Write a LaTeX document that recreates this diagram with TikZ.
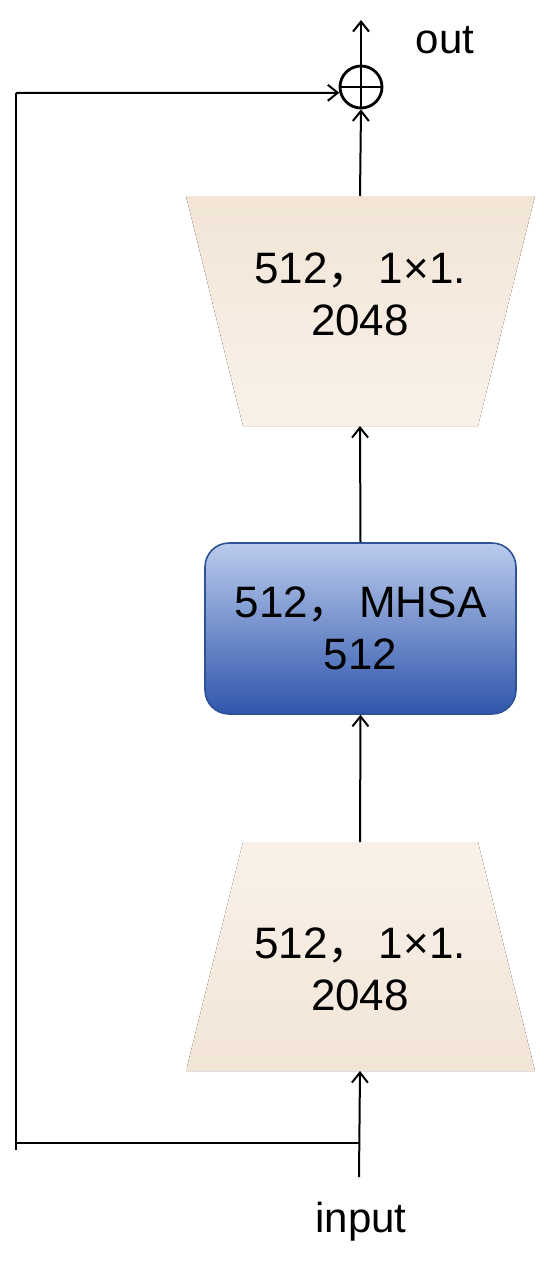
\documentclass[tikz,border=0pt]{standalone}
\usepackage{fontspec}
\setmainfont{Liberation Sans}
\newfontfamily\cjk{Noto Sans CJK SC}
\usetikzlibrary{arrows.meta,shapes.geometric}
\definecolor{trapdark}{RGB}{242,229,214}
\definecolor{traplight}{RGB}{249,241,233}
\definecolor{bluetop}{RGB}{186,203,236}
\definecolor{bluemid}{RGB}{66,112,200}
\definecolor{bluebot}{RGB}{47,86,172}
\definecolor{blueedge}{RGB}{47,82,150}
\begin{document}
\begin{tikzpicture}[x=0.5pt,y=-0.5pt,
  conn/.style={line width=1pt,-{Straight Barb[length=5pt,width=8pt,line width=1pt]}},
  wire/.style={line width=1pt},
  lbl/.style={font=\fontsize{22}{26}\selectfont,align=center,inner sep=0pt},
]
\useasboundingbox (0,0) rectangle (550,1269);
% top trapezoid (wide top)
\fill[top color=trapdark,bottom color=traplight] (186,196) -- (535,196) -- (478,426) -- (243,426) -- cycle;
\coordinate (t2top) at (360,196);
\coordinate (t2bot) at (360,426);
\node[lbl] (t2) at (360,294) {512{\cjk ，}\,1×1.\\2048};
% bottom trapezoid (wide bottom)
\fill[top color=traplight,bottom color=trapdark] (243,842) -- (478,842) -- (535,1071) -- (186,1071) -- cycle;
\coordinate (t1top) at (360,842);
\coordinate (t1bot) at (360,1071);
\node[lbl] (t1) at (360,969) {512{\cjk ，}\,1×1.\\2048};
% MHSA box
\node[draw=blueedge,line width=0.8pt,rounded corners=12pt,minimum width=155.5pt,minimum height=85.5pt,
  top color=bluetop,middle color=bluemid,bottom color=bluebot,inner sep=0pt] (m) at (360.5,628.5) {};
\node[lbl] (mt) at (360.5,628) {512{\cjk ，}\,MHSA\\512};
% sum
\node[draw,circle,line width=1.4pt,minimum size=21pt,inner sep=0pt] (sum) at (361,87) {};
\draw[line width=1.4pt] (sum.north) -- (sum.south);
\draw[line width=1.4pt] (sum.west) -- (sum.east);
\coordinate (outend) at (361,20);
\node[font=\fontsize{21}{25}\selectfont,inner sep=0pt] (out) at (445,40) {out};
\node[font=\fontsize{21}{25}\selectfont,inner sep=0pt] (input) at (361,1222) {input};
\coordinate (inend) at (359,1177);
\coordinate (j) at (359,1143);
\coordinate (lb) at (16,1143);
\coordinate (lbt) at (16,1150);
\coordinate (lt) at (16,93);
% connectors
\draw[conn] (sum.north) -- (outend);
\draw[conn] (t2top) -- (sum.south);
\draw[conn] (m.north) -- (t2bot);
\draw[conn] (t1top) -- (m.south);
\draw[conn] (inend) -- (t1bot);
\draw[wire] (j) -- (lb);
\draw[wire] (lbt) -- (lt);
\draw[conn] (lt) -- (sum.195);
\end{tikzpicture}
\end{document}
